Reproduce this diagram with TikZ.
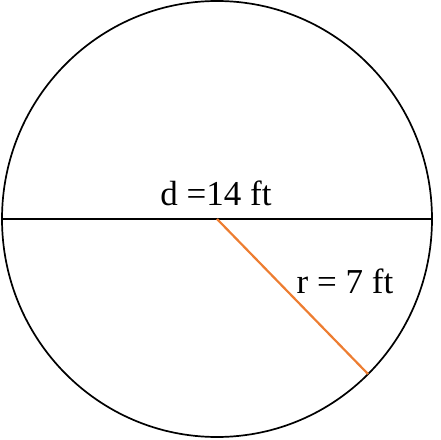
\documentclass[tikz,border=0pt]{standalone}
\usepackage{fontspec}
\setmainfont{Liberation Serif}
\usepackage{xcolor}
\definecolor{radorange}{RGB}{237,125,49}

\begin{document}
\begin{tikzpicture}[x=1pt,y=1pt,
                    label node/.style={inner sep=0pt,font=\fontsize{35}{40}\selectfont}]
  \useasboundingbox (0,0) rectangle (441,439);

  \coordinate (O) at (217,220);
  \coordinate (W) at (2,220);
  \coordinate (E) at (432,220);
  \coordinate (P) at (368,65);

  \draw[line width=1.7pt] (O) ellipse [x radius=215, y radius=218];
  \draw[line width=2.8pt] (W) -- (E);
  \draw[radorange,line width=2.2pt] (O) -- (P);

  \node[label node] (d) at (216,246) {d =14 ft};
  \node[label node] (r) at (345,158) {r = 7 ft};
\end{tikzpicture}
\end{document}
